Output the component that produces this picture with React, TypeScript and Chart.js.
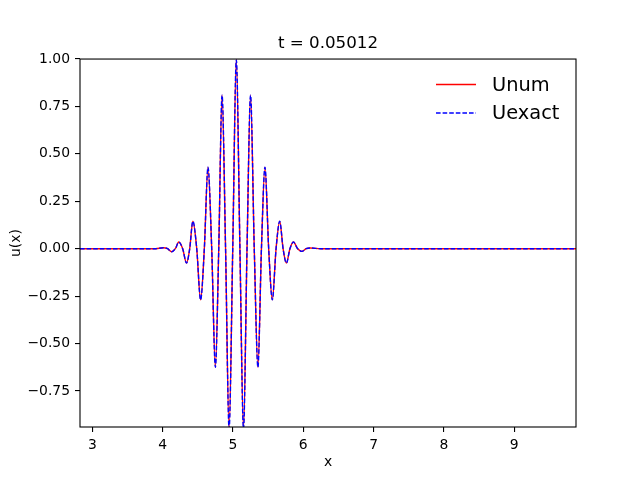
import { useEffect, useRef } from "react";
import { Chart, registerables, type Plugin } from "chart.js";

Chart.register(...registerables);

// wave packet: extrema and zero crossings
const xValues = [
  2.825, 3.5, 3.9, 4.01, 4.07, 4.13, 4.18, 4.23, 4.285, 4.34, 4.385, 4.43, 4.485, 4.54, 4.593, 4.645,
  4.698, 4.75, 4.798, 4.845, 4.895, 4.945, 4.997, 5.048, 5.099, 5.15, 5.2, 5.25, 5.303, 5.355, 5.405,
  5.455, 5.508, 5.56, 5.613, 5.665, 5.713, 5.76, 5.81, 5.86, 5.92, 5.98, 6.04, 6.1, 6.25, 7.5, 9.878,
];
const uNum = [
  0, 0, 0, 0.005, 0, -0.016, 0, 0.035, 0, -0.076, 0, 0.145, 0, -0.27, 0, 0.43, 0, -0.625, 0, 0.81, 0,
  -0.95, 0, 1.0, 0, -0.95, 0, 0.81, 0, -0.625, 0, 0.43, 0, -0.27, 0, 0.145, 0, -0.076, 0, 0.035, 0,
  -0.014, 0, 0.004, 0, 0, 0,
];
const uExact = [
  0, 0, 0, 0.005, 0, -0.016, 0, 0.035, 0, -0.076, 0, 0.145, 0, -0.27, 0, 0.43, 0, -0.625, 0, 0.81, 0,
  -0.95, 0, 0.995, 0, -0.95, 0, 0.81, 0, -0.625, 0, 0.43, 0, -0.27, 0, 0.145, 0, -0.076, 0, 0.035, 0,
  -0.014, 0, 0.004, 0, 0, 0,
];
const xTicks = [3, 4, 5, 6, 7, 8, 9];
const yTicks = [-0.75, -0.5, -0.25, 0, 0.25, 0.5, 0.75, 1];
const title = "t = 0.05012";

const FONT = "'DejaVu Sans', sans-serif";

const frameAndLegend: Plugin<"line"> = {
  id: "frameAndLegend",
  afterDraw(chart) {
    const { ctx, chartArea } = chart;
    ctx.save();
    ctx.strokeStyle = "#000";
    ctx.lineWidth = 1.1;
    ctx.strokeRect(chartArea.left, chartArea.top, chartArea.right - chartArea.left, chartArea.bottom - chartArea.top);

    // legend without frame, upper right
    ctx.font = `19.4px ${FONT}`;
    ctx.textBaseline = "middle";
    ctx.textAlign = "left";
    chart.data.datasets.forEach((ds, i) => {
      const y = chartArea.top + 25.5 + i * 28.4;
      ctx.beginPath();
      ctx.strokeStyle = ds.borderColor as string;
      ctx.lineWidth = ds.borderWidth as number;
      ctx.setLineDash((ds.borderDash as number[]) ?? []);
      ctx.moveTo(chartArea.right - 140, y);
      ctx.lineTo(chartArea.right - 100, y);
      ctx.stroke();
      ctx.setLineDash([]);
      ctx.fillStyle = "#000";
      ctx.fillText(ds.label ?? "", chartArea.right - 84, y + 1);
    });
    ctx.restore();
  },
};

export default function App() {
  const canvasRef = useRef<HTMLCanvasElement>(null);

  useEffect(() => {
    const chart = new Chart(canvasRef.current!, {
      type: "line",
      data: {
        datasets: [
          {
            label: "Unum",
            data: xValues.map((x, i) => ({ x, y: uNum[i] })),
            borderColor: "#ff0000",
            borderWidth: 1.4,
            pointRadius: 0,
            cubicInterpolationMode: "monotone",
            order: 2,
          },
          {
            label: "Uexact",
            data: xValues.map((x, i) => ({ x, y: uExact[i] })),
            borderColor: "#0000ff",
            borderWidth: 1.4,
            borderDash: [4.6, 2],
            pointRadius: 0,
            cubicInterpolationMode: "monotone",
            order: 1,
          },
        ],
      },
      options: {
        animation: false,
        responsive: false,
        devicePixelRatio: 1,
        color: "#000",
        font: { family: FONT },
        layout: { padding: { left: 0, right: 64, top: 0, bottom: 0 } },
        plugins: {
          legend: { display: false },
          tooltip: { enabled: false },
          title: {
            display: true,
            text: title,
            fullSize: false,
            color: "#000",
            font: { family: FONT, size: 16.7, weight: "normal" },
            padding: { top: 34, bottom: 5 },
          },
        },
        scales: {
          x: {
            type: "linear",
            min: 2.825,
            max: 9.878,
            afterFit: (scale) => {
              scale.height = 53;
            },
            afterBuildTicks: (scale) => {
              scale.ticks = xTicks.map((value) => ({ value }));
            },
            grid: { drawOnChartArea: false, drawTicks: true, tickLength: 5, color: "#000", lineWidth: 1.1 },
            border: { display: false },
            ticks: {
              color: "#000",
              padding: 5,
              maxRotation: 0,
              font: { family: FONT, size: 13.9 },
              callback: (v) => String(v),
            },
            title: {
              display: true,
              text: "x",
              color: "#000",
              font: { family: FONT, size: 13.9 },
              padding: { top: 0, bottom: 9 },
            },
          },
          y: {
            type: "linear",
            min: -0.94,
            max: 1.0,
            afterFit: (scale) => {
              scale.width = 80;
            },
            afterBuildTicks: (scale) => {
              scale.ticks = yTicks.map((value) => ({ value }));
            },
            grid: { drawOnChartArea: false, drawTicks: true, tickLength: 5, color: "#000", lineWidth: 1.1 },
            border: { display: false },
            ticks: {
              color: "#000",
              padding: 5,
              font: { family: FONT, size: 13.9 },
              callback: (v) => {
                const n = Number(v);
                return n < 0 ? "\u2212" + Math.abs(n).toFixed(2) : n.toFixed(2);
              },
            },
            title: {
              display: true,
              text: "u(x)",
              color: "#000",
              font: { family: FONT, size: 13.9 },
              padding: { top: 8, bottom: 0 },
            },
          },
        },
      },
      plugins: [frameAndLegend],
    });

    return () => chart.destroy();
  }, []);

  return (
    <div style={{ position: "absolute", left: 0, top: 0, width: 640, height: 480, background: "#fff" }}>
      <canvas ref={canvasRef} width={640} height={480}></canvas>
    </div>
  );
}
